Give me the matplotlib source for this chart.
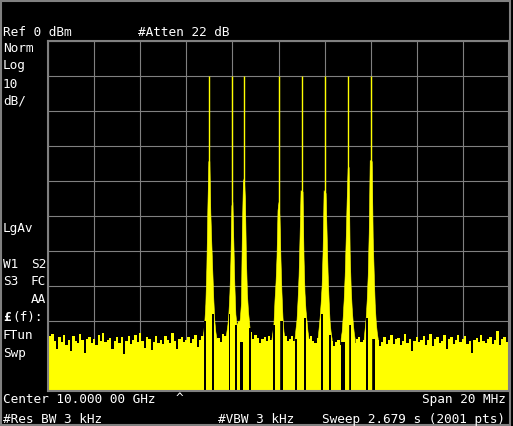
import numpy as np
import matplotlib
matplotlib.use("Agg")
import matplotlib.pyplot as plt

# trace data (MHz offset from 10 GHz centre, dBm)
freqs = np.linspace(-10, 10, 201)
noise_db = [
    -86.5, -84.2, -83.8, -85.6, -87.9, -84.6, -85.9, -83.9, -86.8, -85.3,
    -88.5, -84.4, -85.8, -86.2, -83.6, -85.5, -89.2, -85.1, -84.7, -86.4,
    -85.2, -86.8, -84.1, -85.7, -83.4, -86.1, -85.4, -84.8, -87.9, -85.6,
    -84.5, -86.3, -84.6, -89.4, -85.8, -84.2, -86.6, -85.3, -84.1, -86.0,
    -83.5, -85.7, -87.6, -84.6, -85.2, -88.4, -85.9, -84.3, -86.2, -85.5,
    -86.7, -84.3, -85.4, -86.3, -83.5, -85.6, -88.0, -85.2, -84.6, -86.1,
    -85.3, -84.7, -86.4, -85.1, -83.9, -87.3, -85.5, -84.4, -86.0, -85.0,
    -85.7, -84.6, -86.0, -85.2, -84.8, -85.9, -83.8, -84.2, -85.6, -84.8,
    -85.0, -84.5, -85.8, -84.9, -83.2, -81.5, -80.4, -81.9, -83.1, -85.2,
    -84.0, -84.8, -86.2, -85.0, -84.5, -85.6, -84.2, -85.3, -84.7, -85.5,
    -85.0, -84.6, -85.2, -84.4, -85.8, -85.1, -84.3, -85.6, -84.9, -85.3,
    -84.8, -85.5, -86.1, -85.0, -84.2, -85.7, -86.4, -84.9, -85.2, -85.8,
    -85.4, -84.9, -86.3, -85.6, -87.0, -86.1, -85.4, -86.8, -85.0, -84.7,
    -85.2, -85.9, -84.6, -86.4, -85.1, -84.5, -86.0, -85.3, -84.2, -85.5,
    -85.0, -84.4, -86.2, -85.5, -87.1, -85.9, -84.6, -86.7, -85.3, -84.1,
    -86.5, -85.2, -84.8, -86.9, -85.6, -83.8, -86.3, -85.0, -88.6, -85.7,
    -84.6, -86.1, -85.3, -84.3, -86.8, -85.5, -83.6, -87.2, -85.0, -84.7,
    -86.4, -85.8, -84.1, -88.0, -85.2, -84.5, -86.6, -85.4, -83.9, -86.0,
    -85.1, -84.4, -86.7, -85.6, -89.2, -85.3, -84.8, -86.1, -84.0, -85.7,
    -86.3, -85.0, -84.6, -86.5, -85.4, -82.9, -86.8, -85.2, -84.7, -85.9,
    -86.2,
]

peak_freqs = [-3.0, -2.0, -1.5, 0.0, 1.0, 2.0, 3.0, 4.0]
peak_level = -10.0
skirt_offsets = [-0.304, -0.26, -0.217, -0.174, -0.13, -0.087, -0.043, 0.0,
                 0.043, 0.087, 0.13, 0.174, 0.217, 0.26, 0.304]
skirt_db = [
    [-85, -83, -80, -75, -64.6, -48, -34.3, -34.3, -49, -58, -66, -74, -80, -83, -85],
    [-85, -83, -81, -77.7, -72, -62.6, -47, -46, -57.7, -70, -78, -81, -81, -80, -80],
    [-81, -80, -81, -79, -74.9, -53, -40, -39, -45, -61.7, -72, -77, -80, -83, -85],
    [-85, -83, -80.6, -74, -69, -61.7, -48.3, -46, -50.3, -62.6, -72, -79, -83, -85, -85],
    [-85, -82, -79.5, -74, -67, -56, -42.6, -43, -43, -62, -72, -77, -80, -83, -85],
    [-85, -82, -79, -75, -70, -60, -42.6, -43.4, -43.4, -54.9, -66, -74, -80, -83, -85],
    [-85, -83, -79, -74, -67, -57, -45.4, -36.3, -36, -60, -70, -76, -80, -83, -85],
    [-85, -82, -79, -74, -67, -54.9, -34, -34.3, -34.3, -56, -66, -75, -80, -83, -85],
]

# gaps under the carriers where the sweep never drops to the bottom
notch_lo = [-3.22, -2.88, -2.16, -1.87, -1.66, -1.27, -0.23, 0.07,
            0.73, 1.11, 1.86, 2.17, 2.73, 3.02, 3.81, 4.03]
notch_hi = [-3.14, -2.78, -2.09, -1.81, -1.56, -1.19, -0.14, 0.18,
            0.82, 1.18, 1.93, 2.27, 2.87, 3.15, 3.88, 4.19]
notch_top = [-80, -78, -78, -81, -86, -82, -81, -80,
             -85, -79, -78, -84, -86, -81, -79, -85]

W, H = 513, 426
YEL = "#ffff00"
GRAY = "#808080"

fig = plt.figure(figsize=(W / 100, H / 100), dpi=100, facecolor="black")
ax = fig.add_axes([48 / W, 1 - 391 / H, (509 - 48) / W, (391 - 41) / H])
ax.set_facecolor("black")
ax.set_xlim(-10, 10)
ax.set_ylim(-100, 0)
ax.set_xticks(np.linspace(-10, 10, 11))
ax.set_yticks(np.arange(-100, 1, 10))
ax.tick_params(length=0, labelbottom=False, labelleft=False)
ax.grid(color=GRAY, lw=0.8)
ax.set_axisbelow(True)
for s in ax.spines.values():
    s.set_color(GRAY)
    s.set_linewidth(1.5)

ax.fill_between(freqs, noise_db, -100, step="mid", color=YEL, lw=0, zorder=1)
for c, prof in zip(peak_freqs, skirt_db):
    ax.fill_between(c + np.array(skirt_offsets), prof, -100, color=YEL, lw=0.4, zorder=1.1)
for lo, hi, top in zip(notch_lo, notch_hi, notch_top):
    ax.fill_between([lo, hi], -100, top, color="black", lw=0, zorder=1.2)
ax.vlines(peak_freqs, -100, peak_level, color=YEL, lw=1.0, zorder=1.3)


def txt(x, y, s, ha="left", **kw):
    fig.text(x / W, 1 - y / H, s, ha=ha, va="baseline", color="white",
             family="DejaVu Sans Mono", fontsize=9.2, **kw)


txt(3, 36, "Ref 0 dBm")
txt(138, 36, "#Atten 22 dB")
txt(3, 52, "Norm")
txt(3, 69, "Log")
txt(3, 88, "10")
txt(3, 104, "dB/")
txt(3, 232, "LgAv")
txt(3, 268, "W1")
txt(46, 268, "S2", ha="right")
txt(3, 285, "S3")
txt(46, 285, "FC", ha="right")
txt(46, 303, "AA", ha="right")
txt(3, 321, "£", fontweight="bold")
txt(12, 321, "(f):")
txt(3, 339, "FTun")
txt(3, 357, "Swp")
txt(3, 403, "Center 10.000 00 GHz")
txt(176, 402, "^")
txt(506, 403, "Span 20 MHz", ha="right")
txt(3, 423, "#Res BW 3 kHz")
txt(218, 423, "#VBW 3 kHz")
txt(505, 423, "Sweep 2.679 s (2001 pts)", ha="right")

fig.add_artist(plt.Rectangle((1 / W, 1 / H), 508.5 / W, 424 / H, transform=fig.transFigure,
                             fill=False, ec=GRAY, lw=1.5))

fig.savefig("out.png", dpi=100, facecolor="black")
